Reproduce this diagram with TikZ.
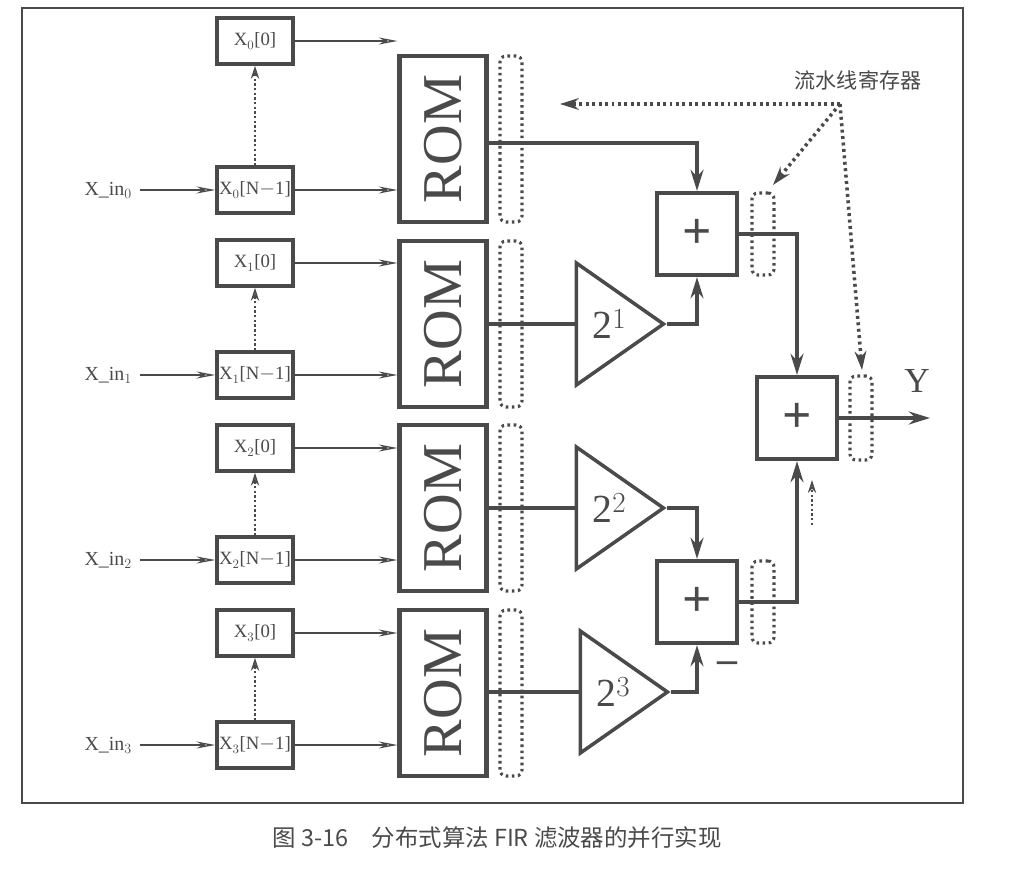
\documentclass[tikz,border=0pt]{standalone}
\usepackage{fontspec}
\setmainfont{Liberation Serif}
\newfontfamily\cjk{Noto Sans CJK SC}
\usetikzlibrary{arrows.meta,shapes.geometric}
\definecolor{ink}{HTML}{4A4A4A}
\begin{document}
\begin{tikzpicture}[x=0.03cm,y=-0.03cm,
  every node/.style={text=ink},
  reg/.style={draw=ink,line width=3pt,minimum width=76*0.03cm,minimum height=46*0.03cm,inner sep=0,font=\fontsize{16}{16}\selectfont},
  rom/.style={draw=ink,line width=3.5pt,minimum width=87*0.03cm,minimum height=166*0.03cm,inner sep=0,font=\fontsize{48}{48}\selectfont},
  preg/.style={draw=ink,line width=2.6pt,dash pattern=on 2.2pt off 3pt,rounded corners=5pt,minimum width=22*0.03cm,inner sep=0},
  add/.style={draw=ink,line width=3.5pt,minimum width=80*0.03cm,minimum height=82*0.03cm,inner sep=0,font=\fontsize{44}{44}\bfseries\selectfont},
  amp/.style={draw=ink,line width=3pt,isosceles triangle,isosceles triangle apex angle=70,minimum height=87*0.03cm,minimum width=62*0.03cm,inner sep=0,font=\fontsize{34}{34}\selectfont},
  thin/.style={draw=ink,line width=1.1pt,-{Stealth[open,length=16pt,width=6pt]}},
  thick/.style={draw=ink,line width=3.5pt,-{Stealth[length=18pt,width=11pt]}},
  dots/.style={draw=ink,line width=3pt,dash pattern=on 2.5pt off 3pt,-{Stealth[open,length=16pt,width=10pt]}},
  lab/.style={font=\fontsize{17}{17}\selectfont,anchor=east}]
\fill[white] (0,0) rectangle (1011,871);
\draw[ink,line width=1.2pt] (22,8) rectangle (963,803);
\foreach \i/\a/\b in {0/41/190,1/263/375,2/448/560,3/633/745}{
  \node[reg] (t\i) at (255,\a) {X$_{\i}$[0]};
  \node[reg] (b\i) at (255,\b) {X$_{\i}$[N$-$1]};
  \coordinate (in\i) at (140,\b);
  \node[lab] (l\i) at (136,\b) {X\_in$_{\i}$};
  \draw[thin] (in\i) -- (b\i);
  \draw[ink,line width=1.3pt,dash pattern=on 2pt off 2pt,-{Stealth[open,length=11pt,width=7pt]}] (b\i) -- (t\i);
}
\foreach \i/\c in {0/139,1/324,2/508,3/693}{
  \node[rom] (r\i) at (443,\c) {\rotatebox{90}{ROM}};
  \node[preg,minimum height=166*0.03cm] (p\i) at (511,\c) {};
}
\foreach \i in {0,1,2,3}{
  \draw[thin] (t\i.east) -- (t\i.east -| r\i.west);
  \draw[thin] (b\i.east) -- (b\i.east -| r\i.west);
}
\node[add] (a1) at (697,234) {+};
\node[add] (a2) at (797,418) {+};
\node[add] (a3) at (697,602) {+};
\node[preg,minimum height=82*0.03cm] (q1) at (763,234) {};
\node[preg,minimum height=84*0.03cm] (q2) at (861,418) {};
\node[preg,minimum height=82*0.03cm] (q3) at (763,602) {};
\node[amp] (g1) at (606,324) {\,2$^{1}$\hspace{1.2em}};
\node[amp] (g2) at (606,508) {\,2$^{2}$\hspace{1.2em}};
\node[amp] (g3) at (610,692) {\,2$^{3}$\hspace{1.2em}};
\draw[thick] (r0.east |- 0,143) -- (697,143) -- (a1.north);
\draw[ink,line width=3.5pt] (r1.east |- g1.west) -- (g1.west);
\draw[ink,line width=3.5pt] (r2.east |- g2.west) -- (g2.west);
\draw[ink,line width=3.5pt] (r3.east |- g3.west) -- (g3.west);
\draw[thick] (g1.apex) -- (697,324) -- (a1.south);
\draw[thick] (g2.apex) -- (697,508) -- (a3.north);
\draw[thick] (g3.apex) -- (697,692) -- (a3.south);
\draw[thick] (a1.east) -- (797,234) -- (a2.north);
\draw[thick] (a3.east) -- (797,602) -- (a2.south);
\coordinate (yo) at (930,418);
\draw[thick] (a2.east) -- (yo);
\node[font=\fontsize{30}{30}\selectfont] (Y) at (917,381) {Y};
\node[font=\fontsize{34}{34}\bfseries\selectfont] (m) at (727,667) {--};
\node[font=\cjk\fontsize{18}{18}\selectfont] (pl) at (858,80) {流水线寄存器};
\coordinate (hub) at (840,104);
\coordinate (e1) at (560,104);
\coordinate (e2) at (773,185);
\coordinate (e3) at (862,370);
\draw[dots] (hub) -- (e1);
\draw[dots] (hub) -- (e2);
\draw[dots] (hub) -- (e3);
\coordinate (f1) at (812,525);
\coordinate (f2) at (812,480);
\draw[ink,line width=1.3pt,dash pattern=on 2pt off 2pt,-{Stealth[open,length=11pt,width=7pt]}] (f1) -- (f2);
\node[font=\cjk\fontsize{20}{20}\selectfont] (cap) at (497,838) {图 3-16\quad 分布式算法 FIR 滤波器的并行实现};
\end{tikzpicture}
\end{document}
